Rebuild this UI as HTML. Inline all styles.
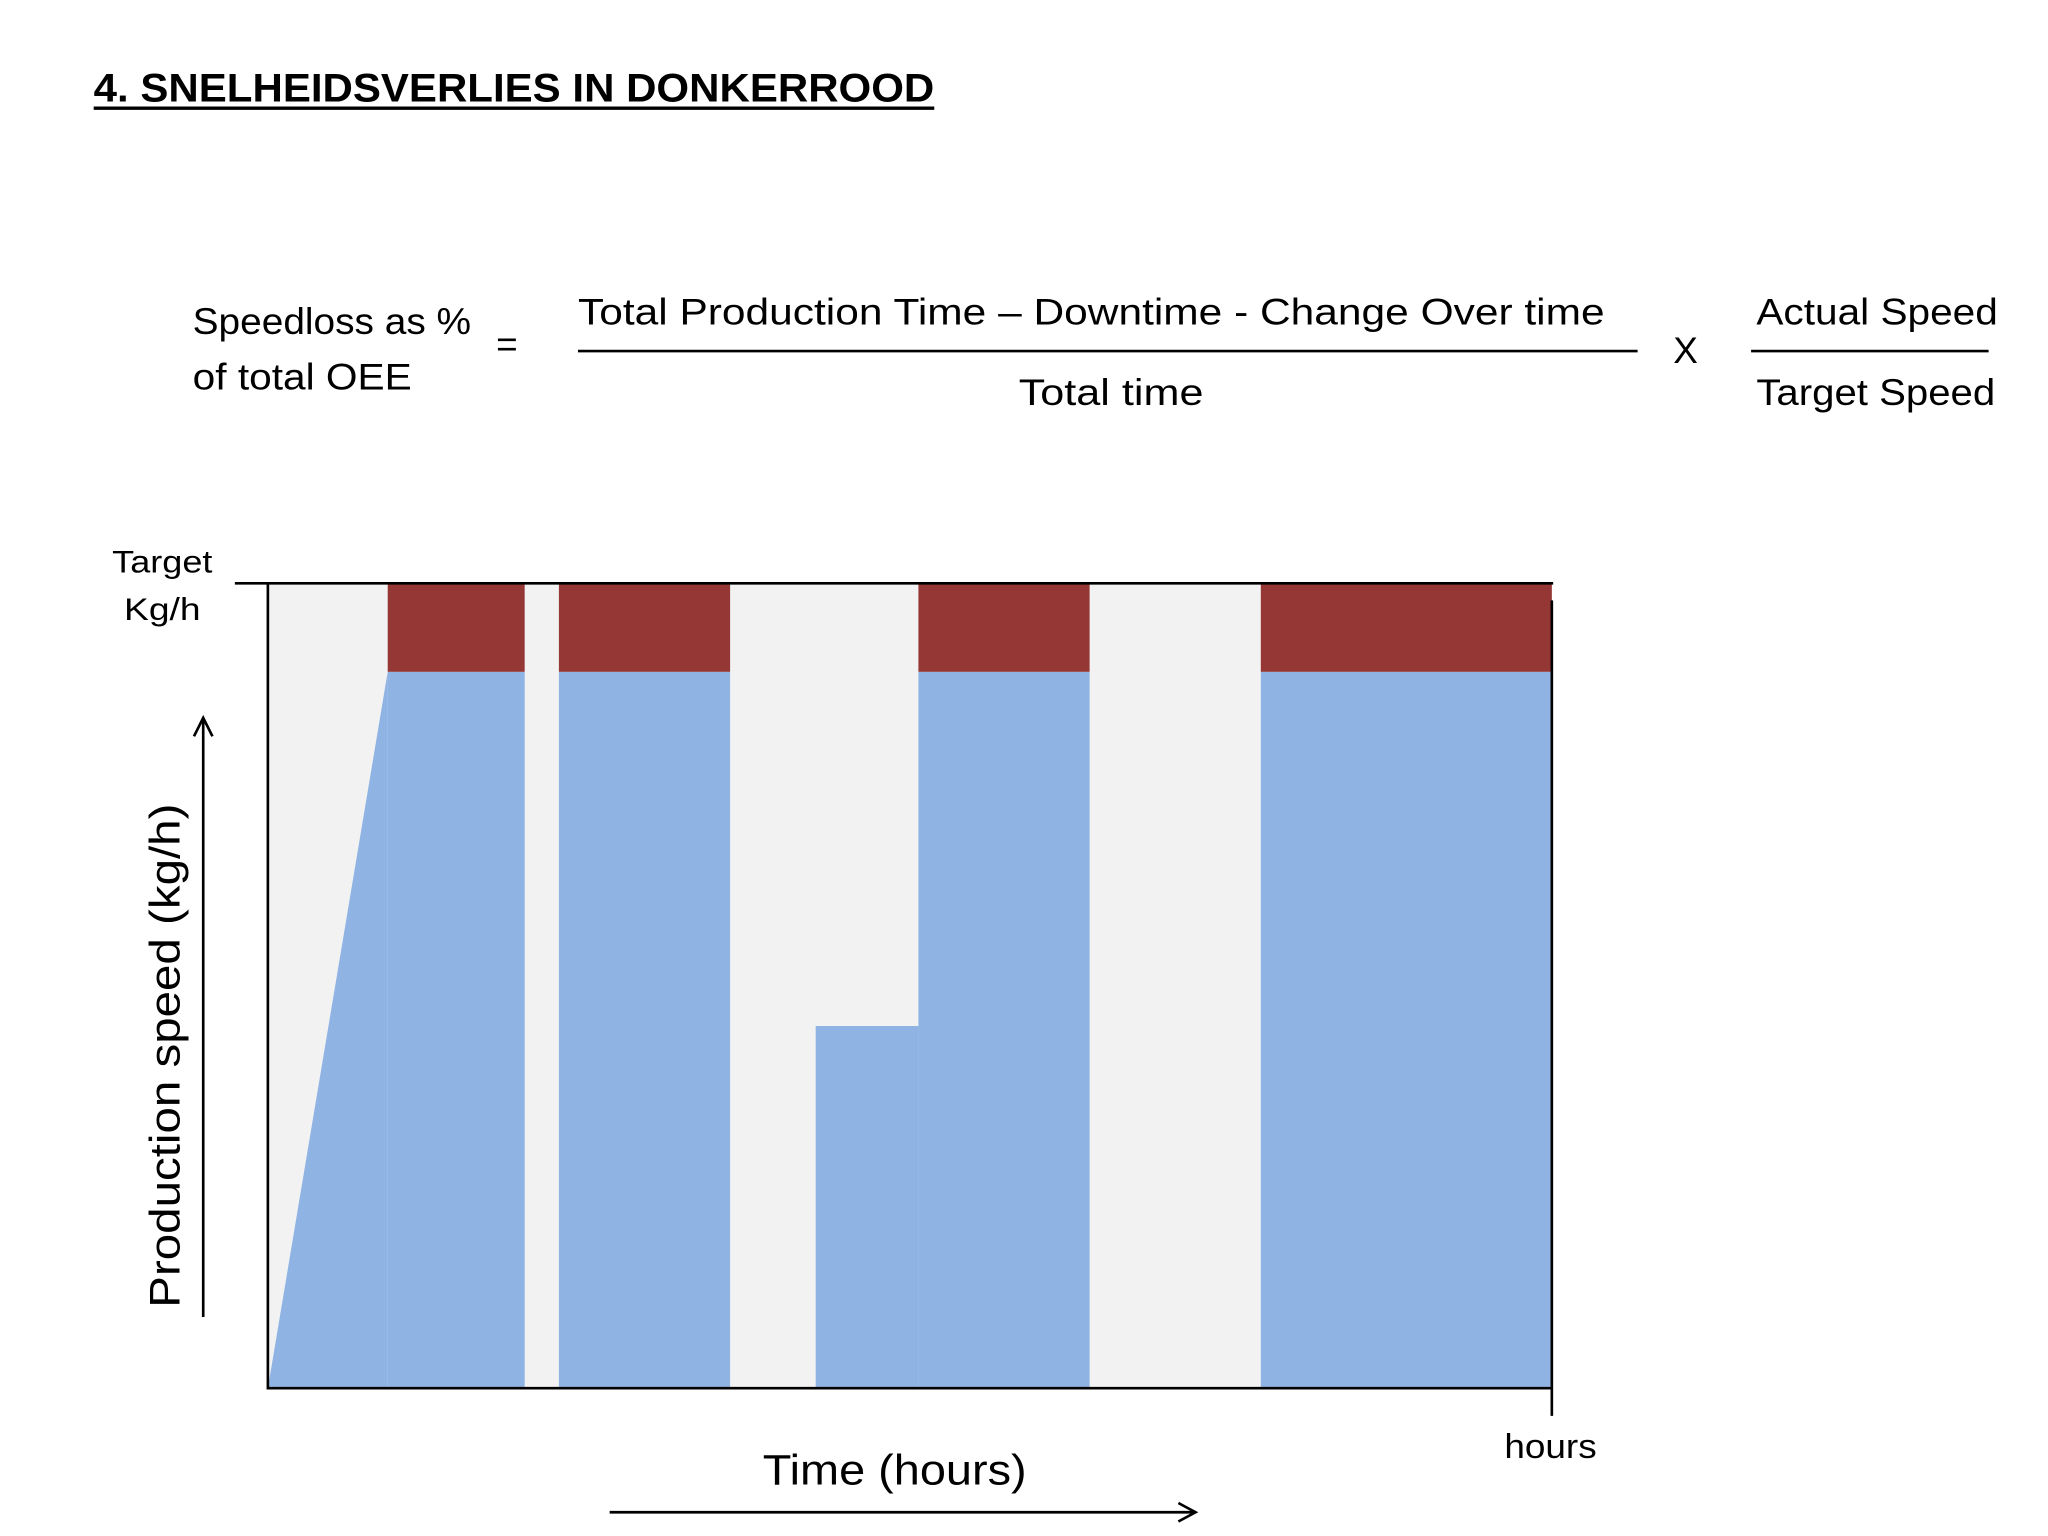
<!DOCTYPE html>
<html><head><meta charset="utf-8"><style>
html,body{margin:0;padding:0;background:#fff;}
svg{display:block;font-family:"Liberation Sans",sans-serif;}
</style></head><body>
<svg id="chart" width="2048" height="1536" viewBox="0 0 1552 1164" xmlns="http://www.w3.org/2000/svg">
<text x="71" y="77" font-size="30" font-weight="bold" textLength="637" lengthAdjust="spacingAndGlyphs">4. SNELHEIDSVERLIES IN DONKERROOD</text>
<line x1="71" y1="82" x2="708" y2="82" stroke="#000" stroke-width="2.5"/>
<g font-size="28">
<text x="146" y="253" textLength="211" lengthAdjust="spacingAndGlyphs">Speedloss as %</text>
<text x="146" y="295" textLength="166" lengthAdjust="spacingAndGlyphs">of total OEE</text>
<text x="376" y="270">=</text>
<text x="438" y="246" textLength="778" lengthAdjust="spacingAndGlyphs">Total Production Time – Downtime  - Change Over time</text>
<line x1="438" y1="266" x2="1241" y2="266" stroke="#000" stroke-width="2"/>
<text x="842" y="307" text-anchor="middle" textLength="140" lengthAdjust="spacingAndGlyphs">Total time</text>
<text x="1268" y="275">X</text>
<text x="1331" y="246" textLength="183" lengthAdjust="spacingAndGlyphs">Actual Speed</text>
<line x1="1327" y1="266" x2="1507" y2="266" stroke="#000" stroke-width="2"/>
<text x="1331" y="307" textLength="181" lengthAdjust="spacingAndGlyphs">Target Speed</text>
</g>
<rect x="203" y="442" width="973" height="610" fill="#f2f2f2"/>
<g id="marks"></g>
<line x1="178" y1="442" x2="1177" y2="442" stroke="#000" stroke-width="2"/>
<line x1="203" y1="442" x2="203" y2="1053" stroke="#000" stroke-width="2"/>
<line x1="203" y1="1052" x2="1176" y2="1052" stroke="#000" stroke-width="2"/>
<line x1="1176" y1="455" x2="1176" y2="1073" stroke="#000" stroke-width="2"/>
<text x="123" y="434" font-size="24" text-anchor="middle" textLength="76" lengthAdjust="spacingAndGlyphs">Target</text>
<text x="123" y="470" font-size="24" text-anchor="middle" textLength="58" lengthAdjust="spacingAndGlyphs">Kg/h</text>
<text transform="translate(136,800) rotate(-90)" font-size="32" text-anchor="middle" textLength="382" lengthAdjust="spacingAndGlyphs">Production speed (kg/h)</text>
<g stroke="#000" stroke-width="2" fill="none">
<line x1="154" y1="998" x2="154" y2="544"/><polyline points="147,558 154,544 161,558"/></g>
<text x="678" y="1125" font-size="32" text-anchor="middle" textLength="200" lengthAdjust="spacingAndGlyphs">Time (hours)</text>
<g stroke="#000" stroke-width="2" fill="none">
<line x1="462" y1="1146" x2="906" y2="1146"/><polyline points="893,1139 906,1146 893,1153"/></g>
<text x="1175" y="1105" font-size="26" text-anchor="middle" textLength="70" lengthAdjust="spacingAndGlyphs">hours</text>
</svg>
<script>
const segStart = [0, 1.4, 3.4, 6.4, 7.6, 11.6];
const segEnd = [1.4, 3.0, 5.4, 7.6, 9.6, 15];
const speedStart = [0, 89, 89, 45, 89, 89];
const speedEnd = [89, 89, 89, 45, 89, 89];
const targetSpeed = 100;
const X0 = 203, X1 = 1176, Y0 = 1052, Y1 = 442, TMAX = 15;
function xs(t){ return X0 + (X1 - X0) * t / TMAX; }
function ys(v){ return Y0 - (Y0 - Y1) * v / targetSpeed; }
const g = document.getElementById('marks');
const NS = 'http://www.w3.org/2000/svg';
for (let i = 0; i < segStart.length; i++) {
  const a = xs(segStart[i]), b = xs(segEnd[i]);
  const p = document.createElementNS(NS, 'polygon');
  p.setAttribute('points', `${a},${ys(0)} ${a},${ys(speedStart[i])} ${b},${ys(speedEnd[i])} ${b},${ys(0)}`);
  p.setAttribute('fill', '#8fb3e3');
  
  
  g.appendChild(p);
  if (speedStart[i] === speedEnd[i] && speedStart[i] >= 80) {
    const r = document.createElementNS(NS, 'rect');
    r.setAttribute('x', a);
    r.setAttribute('y', ys(targetSpeed));
    r.setAttribute('width', b - a);
    r.setAttribute('height', ys(speedStart[i]) - ys(targetSpeed));
    r.setAttribute('fill', '#953735');
    
    
    g.appendChild(r);
  }
}
</script>
</body></html>
